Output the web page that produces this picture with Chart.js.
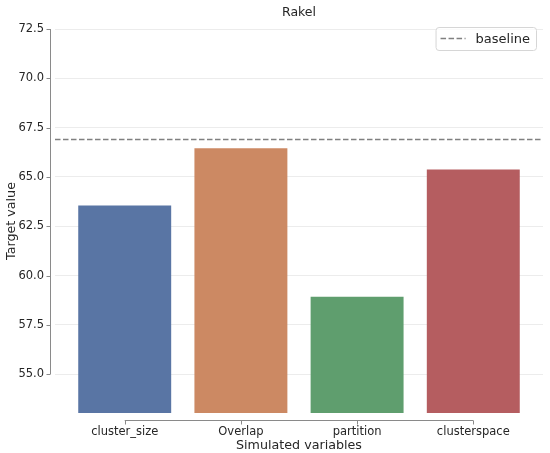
<!DOCTYPE html>
<html>
<head>
<meta charset="utf-8">
<script src="https://cdn.jsdelivr.net/npm/chart.js@4"></script>
<style>
  html, body { margin: 0; padding: 0; background: #fff; }
  #wrap { width: 550px; height: 453px; }
</style>
</head>
<body>
<div id="wrap"><canvas id="chart"></canvas></div>
<script>
const categories = ["cluster_size", "Overlap", "partition", "clusterspace"];
const targetValues = [63.55, 66.45, 58.93, 65.38];
const barColors = ["#5975a4", "#cc8963", "#5f9e6e", "#b55d60"];
const baselineValue = 66.9;
const yTicks = [55.0, 57.5, 60.0, 62.5, 65.0, 67.5, 70.0, 72.5];
const yMin = 53.03;
const xMin = -0.6;
const xMax = 3.6;

const textColor = "#262626";
const spineColor = "#8a8a8a";
const fontFamily = "'DejaVu Sans', sans-serif";

// seaborn-style trimmed spines, offset from the plot area
const spinesPlugin = {
    id: "spines",
    afterDraw(chart) {
        const ctx = chart.ctx;
        const area = chart.chartArea;
        const x = chart.scales.x;
        const y = chart.scales.y;
        ctx.save();
        ctx.strokeStyle = spineColor;
        ctx.lineWidth = 1;

        const sx = area.left - 4.5;
        ctx.beginPath();
        ctx.moveTo(sx, y.getPixelForValue(yTicks[yTicks.length - 1]));
        ctx.lineTo(sx, y.getPixelForValue(yTicks[0]));
        yTicks.forEach(v => {
            const py = Math.round(y.getPixelForValue(v)) + 0.5;
            ctx.moveTo(sx - 4, py);
            ctx.lineTo(sx, py);
        });
        ctx.stroke();

        const sy = area.bottom + 7.5;
        ctx.beginPath();
        ctx.moveTo(x.getPixelForValue(0), sy);
        ctx.lineTo(x.getPixelForValue(categories.length - 1), sy);
        categories.forEach((c, i) => {
            const px = Math.round(x.getPixelForValue(i)) + 0.5;
            ctx.moveTo(px, sy);
            ctx.lineTo(px, sy + 4);
        });
        ctx.stroke();
        ctx.restore();
    }
};

// matplotlib-like legend box in the upper right corner
const legendPlugin = {
    id: "boxLegend",
    afterDraw(chart) {
        const ctx = chart.ctx;
        const area = chart.chartArea;
        const ds = chart.data.datasets[1];
        ctx.save();
        ctx.font = "13px " + fontFamily;
        const tw = ctx.measureText(ds.label).width;
        const w = tw + 46;
        const h = 23;
        const bx = area.right - 7 - w;
        const by = area.top - 2;
        ctx.fillStyle = "rgba(255,255,255,0.8)";
        ctx.strokeStyle = "#d6d6d6";
        ctx.lineWidth = 1;
        ctx.beginPath();
        ctx.roundRect(bx + 0.5, by + 0.5, w, h, 3);
        ctx.fill();
        ctx.stroke();

        ctx.strokeStyle = ds.borderColor;
        ctx.lineWidth = ds.borderWidth;
        ctx.setLineDash(ds.borderDash);
        ctx.beginPath();
        ctx.moveTo(bx + 5, by + h / 2);
        ctx.lineTo(bx + 30, by + h / 2);
        ctx.stroke();
        ctx.setLineDash([]);

        ctx.fillStyle = textColor;
        ctx.textBaseline = "middle";
        ctx.fillText(ds.label, bx + 40, by + h / 2 + 1);
        ctx.restore();
    }
};

new Chart(document.getElementById("chart"), {
    data: {
        datasets: [
            {
                type: "bar",
                label: "Target value",
                data: categories.map((c, i) => ({ x: i, y: targetValues[i] })),
                backgroundColor: barColors,
                borderWidth: 0,
                barPercentage: 0.8,
                categoryPercentage: 1.0
            },
            {
                type: "line",
                label: "baseline",
                data: [{ x: xMin, y: baselineValue }, { x: xMax, y: baselineValue }],
                borderColor: "#808080",
                borderWidth: 1.5,
                borderDash: [5.5, 2.5],
                pointRadius: 0,
                fill: false
            }
        ]
    },
    options: {
        responsive: true,
        maintainAspectRatio: false,
        animation: false,
        layout: { padding: { left: 0, right: 7, top: 0, bottom: 0 } },
        plugins: {
            legend: { display: false },
            tooltip: { enabled: false },
            title: {
                display: true,
                text: "Rakel",
                fullSize: false,
                color: textColor,
                font: { family: fontFamily, size: 12.5, weight: "normal" },
                padding: { top: 5, bottom: 9 }
            }
        },
        scales: {
            x: {
                type: "linear",
                offset: false,
                min: xMin,
                max: xMax,
                afterBuildTicks: s => { s.ticks = categories.map((c, i) => ({ value: i })); },
                afterFit: s => { s.height = 40; },
                ticks: {
                    callback: v => categories[v],
                    color: textColor,
                    font: { family: fontFamily, size: 11.5 },
                    padding: 12,
                    maxRotation: 0
                },
                grid: { display: false, drawTicks: false },
                border: { display: false },
                title: {
                    display: true,
                    text: "Simulated variables",
                    color: textColor,
                    font: { family: fontFamily, size: 12.7 },
                    padding: { top: 0, bottom: 0 }
                }
            },
            y: {
                min: yMin,
                max: 72.5,
                z: 1,
                afterBuildTicks: s => { s.ticks = yTicks.map(v => ({ value: v })); },
                afterFit: s => { s.width = 55; },
                ticks: {
                    callback: v => v.toFixed(1),
                    color: textColor,
                    font: { family: fontFamily, size: 11.5 },
                    padding: 11
                },
                grid: { color: "rgba(200,200,200,0.35)", lineWidth: 1, drawTicks: false },
                border: { display: false },
                title: {
                    display: true,
                    text: "Target value",
                    color: textColor,
                    font: { family: fontFamily, size: 12.7 },
                    padding: { top: 4, bottom: 0 }
                }
            }
        }
    },
    plugins: [spinesPlugin, legendPlugin]
});
</script>
</body>
</html>
